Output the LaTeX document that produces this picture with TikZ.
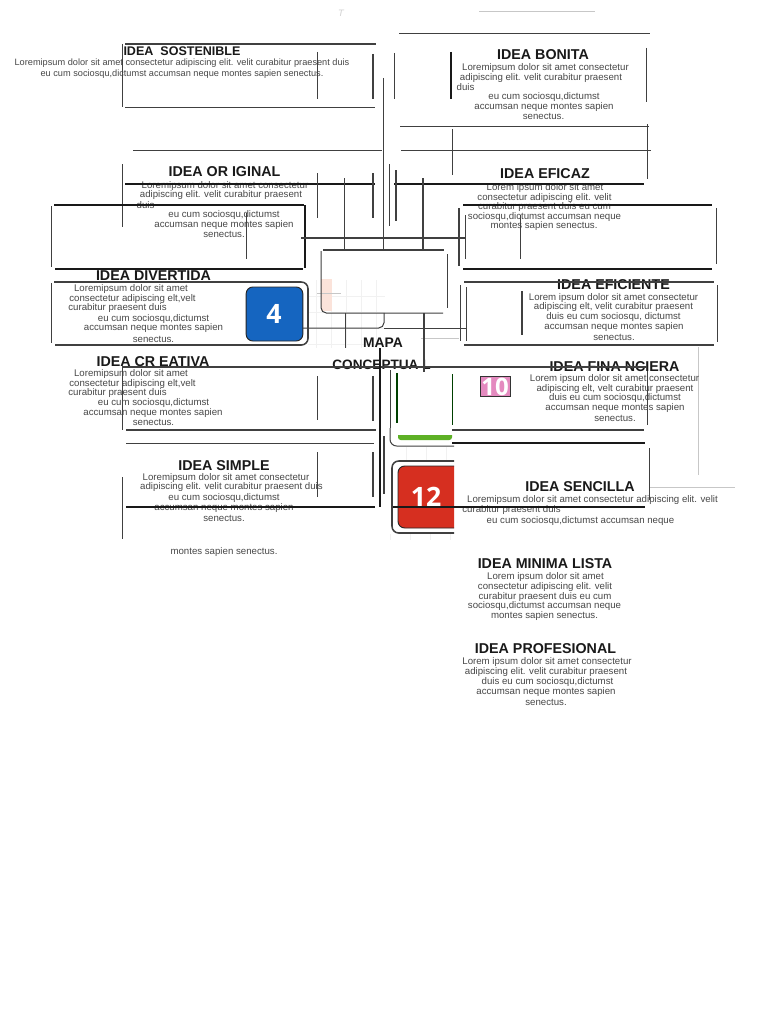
\documentclass[tikz,border=0pt]{standalone}
\usepackage{fontspec}
\setmainfont{Liberation Sans}
\newfontfamily\numfont{Open Sans}
\definecolor{bodyc}{HTML}{484848}
\definecolor{linec}{HTML}{404040}
\definecolor{faint}{HTML}{F1F1F1}
\definecolor{blueb}{HTML}{1565C0}
\definecolor{redb}{HTML}{D62F20}
\definecolor{pinkb}{HTML}{E48ABF}
\definecolor{greenb}{HTML}{5DB025}
\definecolor{peach}{HTML}{FBE3DA}
\tikzset{
  bodyt/.style={text=bodyc,font=\fontsize{7.25pt}{8pt}\selectfont,inner sep=0pt,anchor=center,yshift=-0.7pt},
  titlet/.style={text=black!90,font=\fontsize{10.7pt}{11pt}\selectfont\bfseries,inner sep=0pt,anchor=center,yshift=-0.8pt},
  thinl/.style={draw=linec,line width=0.75pt},
  midl/.style={draw=linec,line width=1.15pt},
  heavyl/.style={draw=black!90,line width=1.5pt},
  lightl/.style={draw=black!22,line width=0.6pt},
  gridl/.style={draw=faint,line width=0.4pt},
  badge/.style={rounded corners=5pt,draw=black!85,line width=0.7pt},
  numt/.style={text=white,font=\fontsize{20pt}{20pt}\selectfont\numfont\bfseries,inner sep=0pt,anchor=center}
}
\newcommand{\bl}[4]{\node[bodyt] (#1) at (#2,#3) {#4};}
\newcommand{\tl}[4]{\node[titlet] (#1) at (#2,#3) {#4};}
\begin{document}
\begin{tikzpicture}[x=0.75pt,y=-0.75pt]
\useasboundingbox (0,0) rectangle (768,1024);
\fill[white] (0,0) rectangle (768,1024);
% faint squared background
\foreach \x in {316,331,346,361,376} \draw[gridl] (\x,280) -- (\x,348);
\foreach \y in {296,312,328,344} \draw[gridl] (308,\y) -- (385,\y);
\foreach \x in {406,426,446} \draw[gridl] (\x,447) -- (\x,460);
\foreach \x in {390,410,430,450} \draw[gridl] (\x,534) -- (\x,540);
\fill[peach] (321,279) rectangle (332,311);
\draw[lightl] (317,293) -- (341,293);
% faint marks
\node[text=black!18,font=\fontsize{7pt}{7pt}\selectfont\itshape,inner sep=0pt] (mark) at (341,13) {T};
\draw[lightl] (479,11.5) -- (595,11.5);
\draw[lightl] (421,338) -- (459,338);
\draw[lightl] (698,347) -- (698,475);
\draw[lightl] (649,487) -- (735,487);
% badges
\draw[midl,rounded corners=5pt] (54,282) -- (308,282) -- (308,345) -- (55,345);
\node[badge,fill=blueb,minimum width=42.5pt,minimum height=40.5pt,inner sep=0pt] (b4) at (274.5,314) {};
\node[numt] (n4) at (274,314) {4};
\fill[greenb,rounded corners=2pt] (398,430) rectangle (452,440);
\fill[white] (396,425) rectangle (454,435);
\draw[thinl,rounded corners=5pt] (390,428) -- (390,446) -- (454,446);
\draw[midl,rounded corners=5pt] (454,461) -- (392,461) -- (392,533) -- (454,533);
\fill[redb,draw=black!85,line width=0.7pt,rounded corners=5pt] (454,466) -- (398,466) -- (398,528) -- (454,528);
\node[numt,font=\fontsize{20pt}{20pt}\selectfont\numfont\bfseries] (n12) at (426,497) {12};
\node[draw=black!80,line width=0.6pt,fill=pinkb,minimum width=23pt,minimum height=15.5pt,inner sep=0pt] (b10) at (495.5,386.5) {};
\node[numt,font=\fontsize{18pt}{18pt}\selectfont\numfont\bfseries] (n10) at (495,387) {10};
% titles
\node[titlet,font=\fontsize{9.4pt}{10pt}\selectfont\bfseries] (t1) at (182,50) {IDEA\ \ SOSTENIBLE};
\tl{t2}{543}{54}{IDEA BONITA}
\tl{t3}{224.5}{171}{IDEA OR IGINAL}
\tl{t4}{545}{172.5}{IDEA EFICAZ}
\tl{t5}{153.5}{274.5}{IDEA DIVERTIDA}
\tl{t6}{613.5}{284}{IDEA\ EFICIENTE}
\tl{t7}{153}{360.5}{IDEA CR EATIVA}
\tl{t8}{614.5}{366}{IDEA\ FINA NCIERA}
\tl{t9}{224}{465}{IDEA SIMPLE}
\tl{t10}{580}{486}{IDEA SENCILLA}
\tl{t11}{545}{563}{IDEA MINIMA LISTA}
\tl{t12}{545.5}{648}{IDEA PROFESIONAL}
\node[titlet,font=\fontsize{10.4pt}{11pt}\selectfont\bfseries] (m1) at (383,341.5) {MAPA};
\node[titlet,font=\fontsize{10.2pt}{11pt}\selectfont\bfseries] (m2) at (381.5,364) {CONCEPTUA L};
% body text
\node[bodyt,font=\fontsize{6.9pt}{7pt}\selectfont] (a1) at (182,62.5) {Loremipsum dolor sit amet consectetur adipiscing elit. velit curabitur praesent duis};
\node[bodyt,font=\fontsize{6.9pt}{7pt}\selectfont] (a2) at (182,73.5) {eu cum sociosqu,dictumst accumsan neque montes sapien senectus.};
\bl{b1}{545.5}{67}{Loremipsum dolor sit amet consectetur}
\bl{b2}{541}{77}{adipiscing elit. velit curabitur praesent}
\bl{b3}{465.5}{86}{duis}
\bl{b5}{544}{96}{eu cum sociosqu,dictumst}
\bl{b6}{544}{106}{accumsan neque montes sapien}
\bl{b7}{543.5}{115}{senectus.}
\bl{c1}{225}{185}{Loremipsum dolor sit amet consectetur}
\bl{c2}{221}{194}{adipiscing elit. velit curabitur praesent}
\bl{c3}{145.5}{204}{duis}
\bl{c5}{224}{214}{eu cum sociosqu,dictumst}
\bl{c6}{224}{224}{accumsan neque montes sapien}
\bl{c7}{224}{233}{senectus.}
\bl{d1}{545}{187}{Lorem ipsum dolor sit amet}
\bl{d2}{544.5}{197}{consectetur adipiscing elit. velit}
\bl{d3}{544.5}{206}{curabitur praesent duis eu cum}
\bl{d4}{544.5}{216}{sociosqu,dictumst accumsan neque}
\bl{d5}{544}{225}{montes sapien senectus.}
\bl{e1}{131}{288}{Loremipsum dolor sit amet}
\bl{e2}{132.5}{298}{consectetur adipiscing elt,velt}
\bl{e3}{117.5}{307}{curabitur praesent duis}
\bl{e4}{153.5}{318}{eu cum sociosqu,dictumst}
\bl{e5}{153.5}{327.5}{accumsan neque montes sapien}
\bl{e6}{153.5}{338}{senectus.}
\bl{f1}{613.5}{297}{Lorem ipsum dolor sit amet consectetur}
\bl{f2}{613.5}{306}{adipiscing elt, velit curabitur praesent}
\bl{f3}{613.5}{316}{duis eu cum sociosqu, dictumst}
\bl{f4}{614}{326}{accumsan neque montes sapien}
\bl{f5}{614}{336}{senectus.}
\bl{g1}{131}{373}{Loremipsum dolor sit amet}
\bl{g2}{132.5}{383}{consectetur adipiscing elt,velt}
\bl{g3}{117.5}{392}{curabitur praesent duis}
\bl{g4}{153.5}{402}{eu cum sociosqu,dictumst}
\bl{g5}{153}{412}{accumsan neque montes sapien}
\bl{g6}{153.5}{421}{senectus.}
\bl{h1}{614.5}{378}{Lorem ipsum dolor sit amet consectetur}
\bl{h2}{615}{388}{adipiscing elt, velt curabitur praesent}
\bl{h3}{615}{397}{duis eu cum sociosqu,dictumst}
\bl{h4}{615}{407}{accumsan neque montes sapien}
\bl{h5}{615}{417}{senectus.}
\bl{i1}{226}{477}{Loremipsum dolor sit amet consectetur}
\bl{i2}{231.5}{486.5}{adipiscing elit. velit curabitur praesent duis}
\bl{i3}{224}{497}{eu cum sociosqu,dictumst}
\bl{i4}{224}{507}{accumsan neque montes sapien}
\bl{i5}{224}{517}{senectus.}
\bl{i6}{224}{551}{montes sapien senectus.}
\bl{j1}{592.5}{499}{Loremipsum dolor sit amet consectetur adipiscing elit. velit}
\bl{j2}{511.5}{509}{curabitur praesent duis}
\bl{j3}{580.5}{520}{eu cum sociosqu,dictumst accumsan neque}
\bl{k1}{545.5}{576}{Lorem ipsum dolor sit amet}
\bl{k2}{545}{586}{consectetur adipiscing elit. velit}
\bl{k3}{545}{596}{curabitur praesent duis eu cum}
\bl{k4}{544.5}{605}{sociosqu,dictumst accumsan neque}
\bl{k5}{544.5}{615}{montes sapien senectus.}
\bl{l1}{547}{661.5}{Lorem ipsum dolor sit amet consectetur}
\bl{l2}{546}{671.5}{adipiscing elit. velit curabitur praesent}
\bl{l3}{547.5}{681}{duis eu cum sociosqu,dictumst}
\bl{l4}{546}{691}{accumsan neque montes sapien}
\bl{l5}{546}{701}{senectus.}
% left column rules
\draw[midl] (125,44) -- (376,44);
\draw[thinl] (125,107.5) -- (375,107.5);
\draw[thinl] (133,150) -- (382,150);
\draw[heavyl] (125,184) -- (375,184);
\draw[thinl] (122,44) -- (122,107);
\draw[thinl] (122,164) -- (122,227);
\draw[thinl] (317,52) -- (317,99);
\draw[thinl] (317,173) -- (317,218);
\draw[midl] (373,54) -- (373,99);
\draw[midl] (373,173) -- (373,218);
% divertida box
\draw[heavyl] (54,205) -- (304,205);
\draw[heavyl] (55,268.5) -- (303,268.5);
\draw[thinl] (51,206) -- (51,267);
\draw[heavyl] (304.5,205) -- (304.5,268);
\draw[thinl] (246,213) -- (246,259);
\draw[thinl] (51,283) -- (51,343);
% right column rules
\draw[midl] (399,33.5) -- (650,33.5);
\draw[thinl] (400,126) -- (649,126);
\draw[thinl] (401,150) -- (651,150);
\draw[heavyl] (394,184) -- (644,184);
\draw[thinl] (394,53) -- (394,99);
\draw[heavyl] (451,52) -- (451,99);
\draw[thinl] (646,48) -- (646,102);
\draw[thinl] (452,129) -- (452,175);
\draw[thinl] (647,124) -- (647,179);
\draw[thinl] (389.5,164) -- (389.5,226);
\draw[midl] (396,170) -- (396,221);
% eficaz box
\draw[heavyl] (463,205) -- (712,205);
\draw[heavyl] (463,268.5) -- (712,268.5);
\draw[midl] (459,208) -- (459,266);
\draw[thinl] (465.5,215) -- (465.5,259);
\draw[thinl] (520.5,215) -- (520.5,259);
\draw[thinl] (716,208) -- (716,264);
% eficiente box
\draw[midl] (464,282) -- (714,282);
\draw[midl] (464,345) -- (714,345);
\draw[thinl] (460,285) -- (460,341);
\draw[thinl] (466,287) -- (466,341);
\draw[midl] (522,291) -- (522,335);
\draw[midl] (717.5,285) -- (717.5,342);
% centre
\draw[midl] (301,238) -- (465,238);
\draw[thinl] (383.5,78) -- (383.5,249);
\draw[thinl] (344,178) -- (344,249);
\draw[midl] (423,178) -- (423,249);
\draw[midl] (323,250) -- (444,250);
\draw[thinl,rounded corners=4pt] (321,251) -- (321,313) -- (443,313);
\draw[thinl] (447,254) -- (447,308);
\draw[thinl,rounded corners=4pt] (303,328) -- (384,328) -- (384,313);
\draw[thinl] (384,328) -- (466,328);
\draw[thinl] (345.5,313) -- (345.5,348);
\draw[midl] (424,313) -- (424,372);
% lower rows
\draw[midl] (122,367) -- (647,367);
\draw[thinl] (122,367) -- (122,430);
\draw[thinl] (317,376) -- (317,420);
\draw[midl] (373,376) -- (373,421);
\draw[midl] (126,430) -- (376,430);
\draw[thinl] (126,443) -- (374,443);
\draw[thinl] (317,452) -- (317,497);
\draw[midl] (373,452) -- (373,497);
\draw[thinl] (122,477) -- (122,539);
\draw[heavyl] (126,506.5) -- (375,506.5);
\draw[heavyl] (380,348) -- (380,507);
\draw[midl] (384,436) -- (384,494);
\draw[thinl] (390,370) -- (390,428);
\draw[draw=green!25!black,line width=0.9pt] (397,373) -- (397,423);
\draw[draw=green!25!black,line width=0.7pt] (452,374) -- (452,425);
\draw[midl] (452,430) -- (644,430);
\draw[heavyl] (452,443) -- (645,443);
\draw[thinl] (647,371) -- (647,425);
\draw[thinl] (649,448) -- (649,500);
\draw[heavyl] (393,506.5) -- (645,506.5);
\end{tikzpicture}
\end{document}
